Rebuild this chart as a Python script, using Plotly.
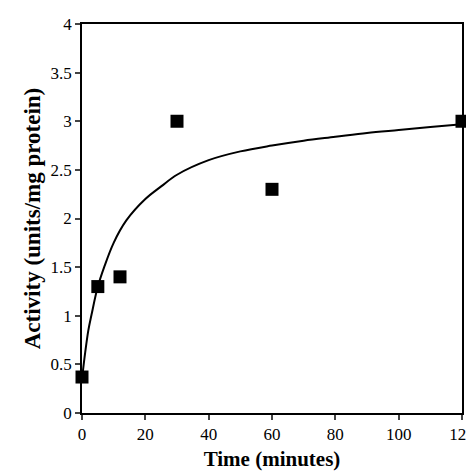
import plotly.graph_objects as go

time_pts = [0, 5, 12, 30, 60, 120]
activity_pts = [0.37, 1.3, 1.4, 3.0, 2.3, 3.0]

curve_x = [0, 1, 2, 3, 5, 7, 10, 14, 20, 25, 30, 40, 50, 60, 70, 80, 90, 100, 110, 120]
curve_y = [0.35, 0.62, 0.85, 1.01, 1.3, 1.5, 1.75, 1.98, 2.2, 2.33, 2.45, 2.6, 2.69, 2.75, 2.8, 2.84, 2.88, 2.91, 2.94, 2.97]

x_ticks = [0, 20, 40, 60, 80, 100, 120]
y_ticks = [0, 0.5, 1, 1.5, 2, 2.5, 3, 3.5, 4]

fig = go.Figure()
fig.add_trace(go.Scatter(x=curve_x, y=curve_y, mode="lines", line=dict(color="black", width=2, shape="spline"), cliponaxis=False))
fig.add_trace(go.Scatter(x=time_pts, y=activity_pts, mode="markers", marker=dict(symbol="square", size=13, color="black"), cliponaxis=False))

font = dict(family="Liberation Serif, Times New Roman, serif", color="black", size=17)
fig.update_layout(
    width=474, height=474, showlegend=False,
    plot_bgcolor="white", paper_bgcolor="white",
    margin=dict(l=74, r=7, t=12, b=69),
    font=font,
)
fig.update_xaxes(range=[0, 120.001], tickvals=x_ticks, ticks="outside", ticklen=5, tickwidth=1.5,
                 ticklabeloverflow="allow",
                 showline=True, linecolor="black", linewidth=1.5, mirror=True, showgrid=False, zeroline=False,
                 title=dict(text="<b>Time (minutes)</b>", font=dict(size=21), standoff=8))
fig.update_yaxes(range=[0, 4], tickvals=y_ticks, ticks="outside", ticklen=5, tickwidth=1.5,
                 showline=True, linecolor="black", linewidth=1.5, mirror=True, showgrid=False, zeroline=False,
                 title=dict(text="<b>Activity (units/mg protein)</b>", font=dict(size=23), standoff=4))
fig.write_html("out.html")
